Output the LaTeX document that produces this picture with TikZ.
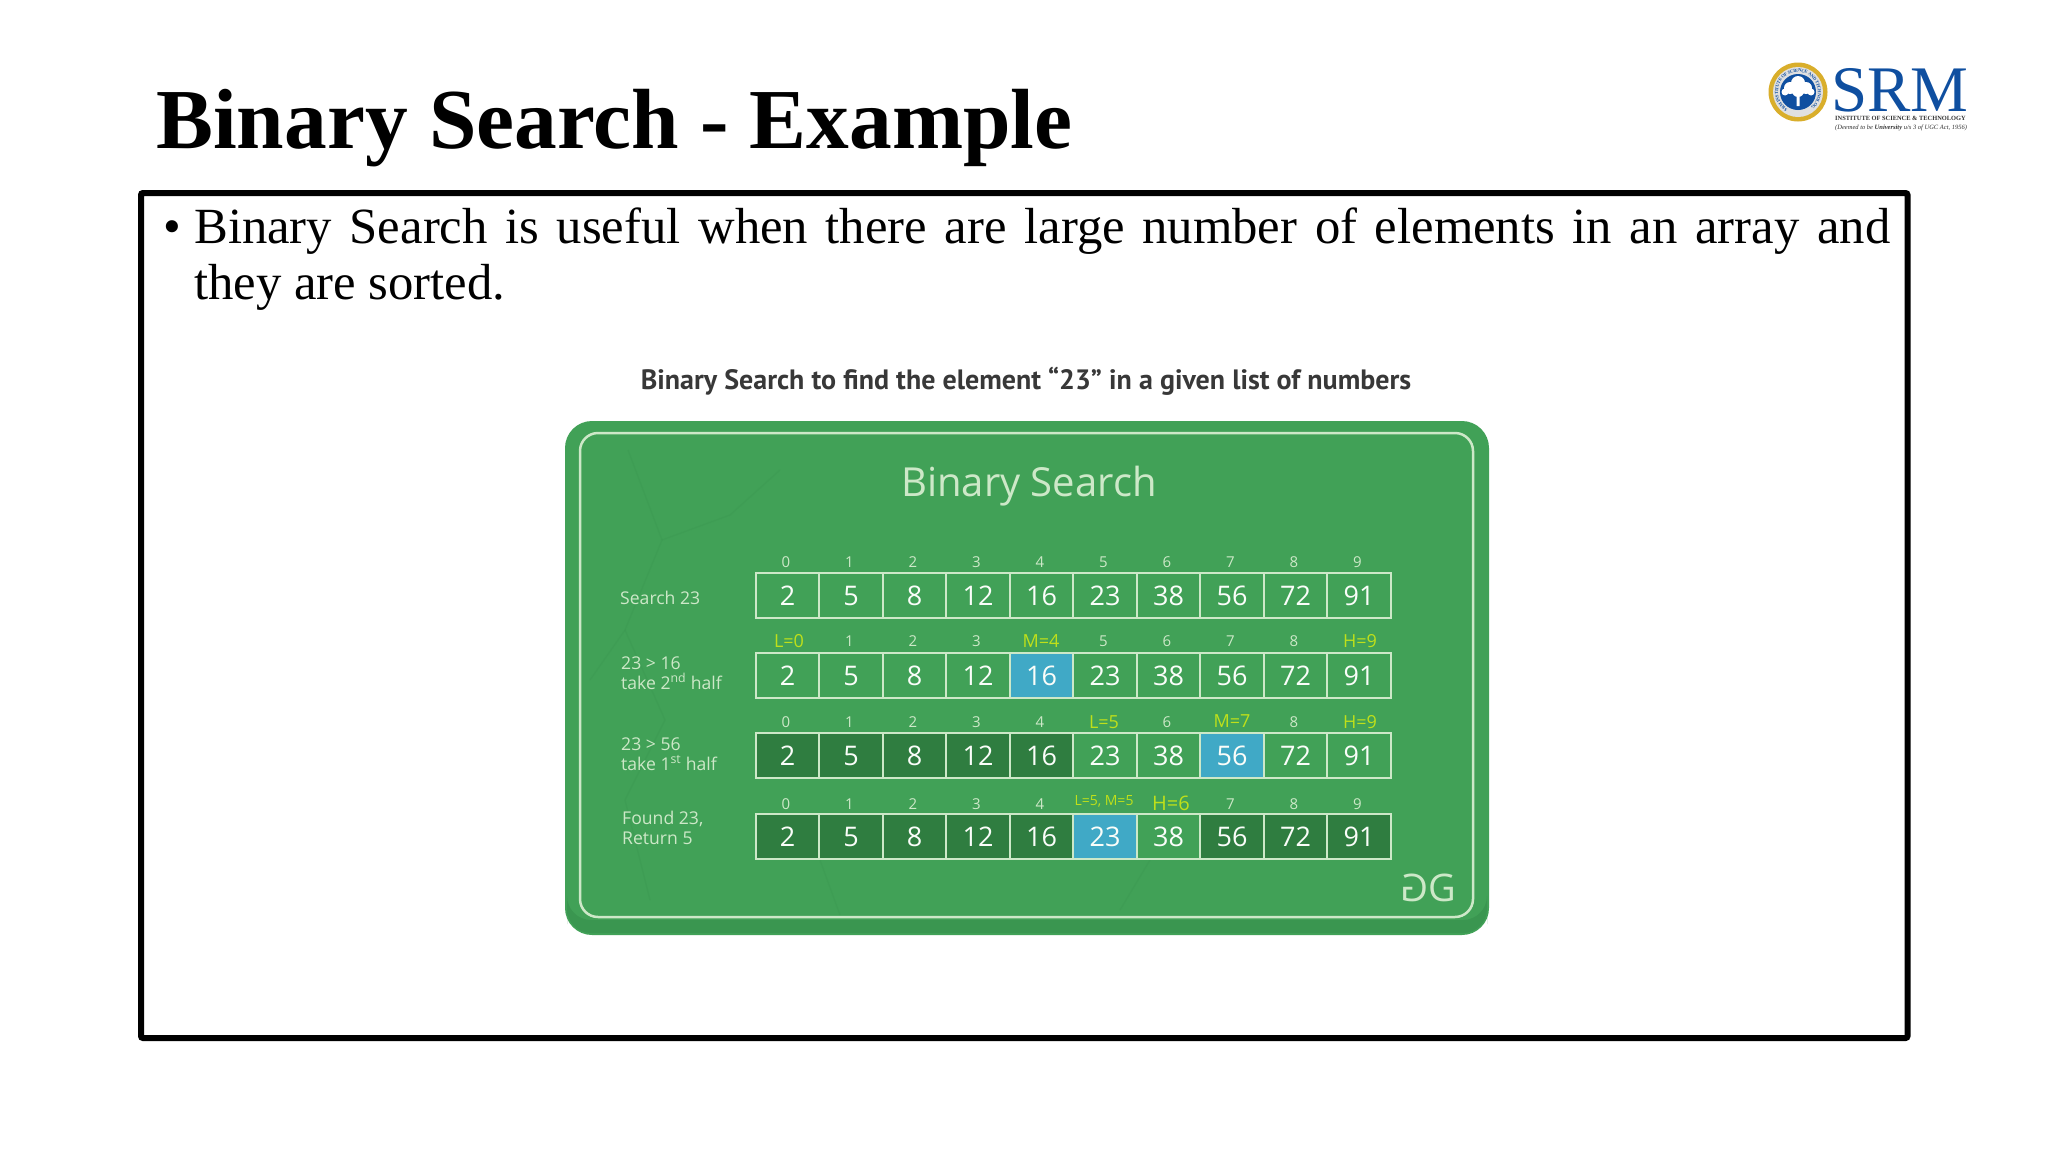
\documentclass[tikz,border=0pt]{standalone}
\usepackage{fontspec}
\usepackage{tikz}
\usetikzlibrary{decorations.text}
\setmainfont{Liberation Serif}
\newfontfamily\boardfont{Open Sans}
\newfontfamily\capfont{PT Sans}
\definecolor{boardgreen}{HTML}{41A157}
\definecolor{lipgreen}{HTML}{3A9650}
\definecolor{darkcell}{HTML}{2F7D40}
\definecolor{hitblue}{HTML}{40A9C6}
\definecolor{linegreen}{HTML}{CDE8C8}
\definecolor{marklime}{HTML}{BFE01A}
\definecolor{srmblue}{HTML}{0F4FA0}
\definecolor{srmgold}{HTML}{D9AE2B}
\tikzset{
    cellbox/.style={draw=linegreen, line width=1.8pt, minimum width=63.5pt, minimum height=45pt, inner sep=0pt, text=white!90!linegreen, font=\boardfont\fontsize{27}{27}\selectfont},
    darkbox/.style={cellbox, fill=darkcell},
    hitbox/.style={cellbox, fill=hitblue},
    idxlabel/.style={inner sep=0pt, text=linegreen, font=\boardfont\fontsize{15}{15}\selectfont},
    marklabel/.style={inner sep=0pt, text=marklime, font=\boardfont\fontsize{18}{18}\selectfont},
    rowlabel/.style={inner sep=0pt, anchor=west, align=left, text=linegreen, font=\boardfont\fontsize{17.6}{19.5}\selectfont},
    hexline/.style={lipgreen, line width=1.4pt, opacity=0.3}
}

\begin{document}
\begin{tikzpicture}[x=1pt,y=-1pt]
    \useasboundingbox (0,0) rectangle (2048,1152);
    \fill[white] (0,0) rectangle (2048,1152);

    \node[inner sep=0pt, anchor=base west, font=\bfseries\fontsize{85.4}{85}\selectfont] (title) at (156,148) {Binary Search - Example};
    \draw[line width=6pt, rounded corners=2pt] (141,193) rectangle (1907.5,1038);
    \node[inner sep=0pt, anchor=base west, font=\fontsize{50.7}{55}\selectfont] (bullet) at (163,243) {\textbullet};
    \node[inner sep=0pt, anchor=north west, text width=1696pt, align=justify, font=\fontsize{50.7}{55.6}\selectfont] (body) at (194,208) {Binary Search is useful when there are large number of elements in an array and\linebreak they are sorted.};

    \node[inner sep=0pt, text=black!78, font=\capfont\bfseries\fontsize{28}{28}\selectfont] (caption) at (1026,381) {Binary Search to find the element “23” in a given list of numbers};

    \fill[boardgreen] (565,421) [rounded corners=27pt] rectangle (1489,935);
    \draw[hexline] (628,450) -- (662,540) -- (625,630) -- (590,680);
    \draw[hexline] (662,540) -- (730,515) -- (780,470);
    \draw[hexline] (625,630) -- (665,720) -- (625,800) -- (650,900);
    \draw[hexline] (1150,860) -- (1120,910);
    \draw[hexline] (820,860) -- (840,915);
    \fill[lipgreen] (567,900) [rounded corners=24pt] -- (567,920) -- (1487,920) -- (1487,900) -- (1487,933) -- (567,933) -- cycle;
    \draw[linegreen, line width=2.5pt, rounded corners=18pt] (580,433) rectangle (1473,917);

    \node[inner sep=0pt, text=linegreen, font=\boardfont\fontsize{40}{40}\selectfont] (board) at (1029,486) {Binary Search};

    \node[rowlabel] (search) at (620,598) {Search 23};
    \node[rowlabel] (half2) at (621,673) {23 > 16\\take 2\textsuperscript{nd} half};
    \node[rowlabel] (half1) at (621,754) {23 > 56\\take 1\textsuperscript{st} half};
    \node[rowlabel] (found) at (622,828) {Found 23,\\Return 5};

    \foreach \i/\v/\s in {0/2/cellbox,1/5/cellbox,2/8/cellbox,3/12/cellbox,4/16/cellbox,5/23/cellbox,6/38/cellbox,7/56/cellbox,8/72/cellbox,9/91/cellbox}
        \node[\s] (a\i) at ({787.5+63.5*\i},595.5) {\v};
    \foreach \i/\v/\s in {0/2/cellbox,1/5/cellbox,2/8/cellbox,3/12/cellbox,4/16/hitbox,5/23/cellbox,6/38/cellbox,7/56/cellbox,8/72/cellbox,9/91/cellbox}
        \node[\s] (b\i) at ({787.5+63.5*\i},675.5) {\v};
    \foreach \i/\v/\s in {0/2/darkbox,1/5/darkbox,2/8/darkbox,3/12/darkbox,4/16/darkbox,5/23/cellbox,6/38/cellbox,7/56/hitbox,8/72/cellbox,9/91/cellbox}
        \node[\s] (c\i) at ({787.5+63.5*\i},755.5) {\v};
    \foreach \i/\v/\s in {0/2/darkbox,1/5/darkbox,2/8/darkbox,3/12/darkbox,4/16/darkbox,5/23/hitbox,6/38/cellbox,7/56/darkbox,8/72/darkbox,9/91/darkbox}
        \node[\s] (d\i) at ({787.5+63.5*\i},836.5) {\v};

    \foreach \i in {0,...,9}
        \node[idxlabel] (ai\i) at ({786+63.5*\i},562) {\i};
    \foreach \i in {1,2,3,5,6,7,8}
        \node[idxlabel] (bi\i) at ({786+63.5*\i},641) {\i};
    \foreach \i in {0,1,2,3,4,6,8}
        \node[idxlabel] (ci\i) at ({786+63.5*\i},722) {\i};
    \foreach \i in {0,1,2,3,4,7,8,9}
        \node[idxlabel] (di\i) at ({786+63.5*\i},804) {\i};

    \node[marklabel] (bl) at (789,641) {L=0};
    \node[marklabel] (bm) at (1041,641) {M=4};
    \node[marklabel] (bh) at (1360,641) {H=9};
    \node[marklabel] (cl) at (1104,722) {L=5};
    \node[marklabel] (cm) at (1232,721) {M=7};
    \node[marklabel] (ch) at (1360,722) {H=9};
    \node[marklabel, font=\boardfont\fontsize{14}{14}\selectfont] (dl) at (1104,801) {L=5, M=5};
    \node[marklabel, font=\boardfont\fontsize{20}{20}\selectfont] (dh) at (1171,803) {H=6};

    \node[inner sep=0pt, text=linegreen, font=\boardfont\fontsize{38}{38}\selectfont] (gfg) at (1428,888) {\reflectbox{G}G};

    \fill[srmgold] (1798,92) circle (29.5pt);
    \fill[white!88!black] (1798,92) circle (25pt);
    \fill[srmblue] (1798,92) circle (18pt);
    \fill[white] (1798,83) circle (7pt) (1790,88) circle (6pt) (1806,88) circle (6pt) (1785,92) circle (3.5pt) (1811,92) circle (3.5pt) (1798,91) circle (6pt) (1796.5,92) rectangle (1799.5,106);
    \path[decorate, decoration={text along path, text align=center, raise=-1.5pt, text={|\bfseries\fontsize{4.6}{5}\selectfont\color{srmblue}|SRM INSTITUTE OF SCIENCE AND TECHNOLOGY}}] (1798,92) ++(130:21.5) arc[start angle=130, end angle=410, radius=21.5];
    \node[inner sep=0pt, anchor=base west, text=srmblue, font=\fontsize{65}{65}\selectfont] (srm) at (1831,111) {SRM};
    \node[inner sep=0pt, anchor=base west, text=black!80, font=\bfseries\fontsize{6.4}{7}\selectfont] (inst) at (1835,120.5) {INSTITUTE OF SCIENCE \& TECHNOLOGY};
    \node[inner sep=0pt, anchor=base west, text=black!80, font=\itshape\fontsize{6.5}{7}\selectfont] (deem) at (1835,129.5) {(Deemed to be \textbf{University} u/s 3 of UGC Act, 1956)};
\end{tikzpicture}
\end{document}
